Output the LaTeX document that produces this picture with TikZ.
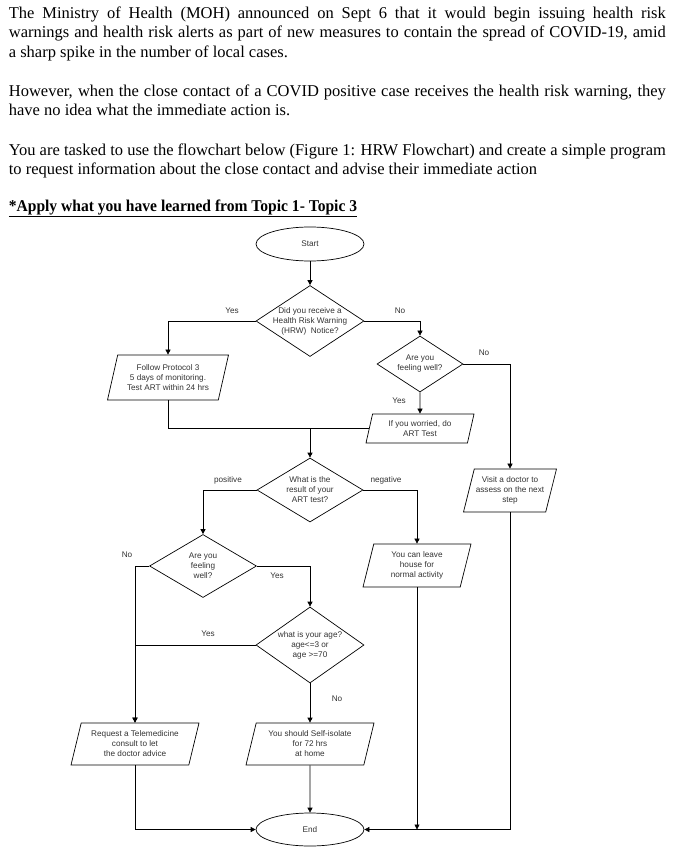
\documentclass[tikz,border=0pt]{standalone}
\usepackage{fontspec}
\setmainfont{Liberation Serif}
\newfontfamily\flowfont{Liberation Sans}
\usetikzlibrary{shapes.geometric,arrows.meta}

\tikzset{
  bodyline/.style={anchor=base west, inner sep=0pt, font=\fontsize{16.5}{19.5}\selectfont},
  flowtext/.style={font=\flowfont\fontsize{8.2}{10}\selectfont, text=black!80, align=center},
  terminal/.style={draw, ellipse, flowtext, minimum width=108pt, minimum height=34pt, inner sep=0pt},
  decision/.style={draw, diamond, flowtext, aspect=1.5, inner sep=-3pt},
  iobox/.style={draw, trapezium, flowtext, trapezium left angle=70, trapezium right angle=110,
    trapezium stretches body=true, inner xsep=1pt, inner ysep=1pt},
  lbl/.style={flowtext, inner sep=0pt},
}

\begin{document}
\begin{tikzpicture}[x=1pt, y=-1pt, line width=0.7pt, >={Triangle[length=5pt,width=5pt]}]
    \useasboundingbox (0,0) rectangle (676,858);

    % Aufgabentext
    \node[bodyline] (intro1) at (8.5,18.5) {\makebox[657pt][s]{The Ministry of Health (MOH) announced on Sept 6 that it would begin issuing health risk}};
    \node[bodyline] (intro2) at (8.5,38) {\makebox[657pt][s]{warnings and health risk alerts as part of new measures to contain the spread of COVID-19, amid}};
    \node[bodyline] (intro3) at (8.5,57.5) {a sharp spike in the number of local cases.};
    \node[bodyline] (issue1) at (8.5,96.5) {\makebox[657pt][s]{However, when the close contact of a COVID positive case receives the health risk warning, they}};
    \node[bodyline] (issue2) at (8.5,116) {have no idea what the immediate action is.};
    \node[bodyline] (task1) at (8.5,155.5) {\makebox[657pt][s]{You are tasked to use the flowchart below (Figure 1: HRW Flowchart) and create a simple program}};
    \node[bodyline] (task2) at (8.5,175) {to request information about the close contact and advise their immediate action};
    \node[bodyline, font=\fontsize{16.5}{19.5}\selectfont\bfseries] (apply) at (8.5,211.5) {\scalebox{0.943}[1]{\underline{*Apply what you have learned from Topic 1- Topic 3}}};

    % Start und erste Frage
    \node[terminal] (start) at (310,244) {Start};
    \node[decision, minimum width=108pt, minimum height=71pt] (hrw) at (310,321) {Did you receive a\\Health Risk Warning\\(HRW)\ \ Notice?};

    % Zweig: HRW erhalten
    \node[iobox, minimum width=121pt, minimum height=45pt] (proto) at (168,377.5) {Follow Protocol 3\\5 days of monitoring.\\Test ART within 24 hrs};

    % Zweig: kein HRW
    \node[decision, minimum width=86pt, minimum height=56pt] (well1) at (420,364) {Are you\\feeling well?};
    \node[iobox, minimum width=108pt, minimum height=29pt] (worry) at (420,428.5) {If you worried, do\\ART Test};
    \node[iobox, minimum width=93pt, minimum height=43pt] (visit) at (510,490.5) {Visit a doctor to\\assess on the next\\step};
    \coordinate (join) at (310,428.5);

    % ART-Ergebnis
    \node[decision, minimum width=106pt, minimum height=64pt] (art) at (310,490) {What is the\\result of your\\ART test?};
    \node[decision, minimum width=107pt, minimum height=63pt] (well2) at (203,566) {Are you\\feeling\\well?};
    \node[iobox, minimum width=108pt, minimum height=43pt] (leave) at (417,565.5) {You can leave\\house for\\normal activity};
    \node[decision, minimum width=108pt, minimum height=76pt] (age) at (310,645) {what is your age?\\age<=3 or\\age >=70};
    \node[iobox, minimum width=128pt, minimum height=42pt] (tele) at (135,744) {Request a Telemedicine\\consult to let\\the doctor advice};
    \node[iobox, minimum width=128pt, minimum height=42pt] (isolate) at (310,744) {You should Self-isolate\\for 72 hrs\\at home};
    \node[terminal, minimum height=33pt] (end) at (310,829.5) {End};

    % Beschriftungen
    \node[lbl] (lyes1) at (232,311) {Yes};
    \node[lbl] (lno1) at (400,311) {No};
    \node[lbl] (lno2) at (484,353) {No};
    \node[lbl] (lyes2) at (399,401) {Yes};
    \node[lbl] (lpos) at (228,480) {positive};
    \node[lbl] (lneg) at (386,480) {negative};
    \node[lbl] (lno3) at (127,555) {No};
    \node[lbl] (lyes3) at (277,576) {Yes};
    \node[lbl] (lyes4) at (208,634) {Yes};
    \node[lbl] (lno4) at (337,699) {No};

    % Verbindungen
    \draw[->] (start) -- (hrw);
    \draw[->] (hrw) -| (proto);
    \draw[->] (hrw) -| (well1);
    \draw[->] (well1) -- (worry);
    \draw[->] (well1) -| (visit);
    \draw[->] (proto) |- (join) -- (art);
    \draw (worry) -| (join);
    \draw[->] (art) -| (well2);
    \draw[->] (art) -| (leave);
    \draw[->] (well2) -| (tele);
    \draw[->] (well2) -| (age);
    \draw[->] (age) -| (tele);
    \draw[->] (age) -- (isolate);
    \draw[->] (tele) |- (end);
    \draw[->] (isolate) -- (end);
    \draw[->] (leave) -- (leave |- end.east);
    \draw[->] (visit) |- (end);
\end{tikzpicture}
\end{document}
